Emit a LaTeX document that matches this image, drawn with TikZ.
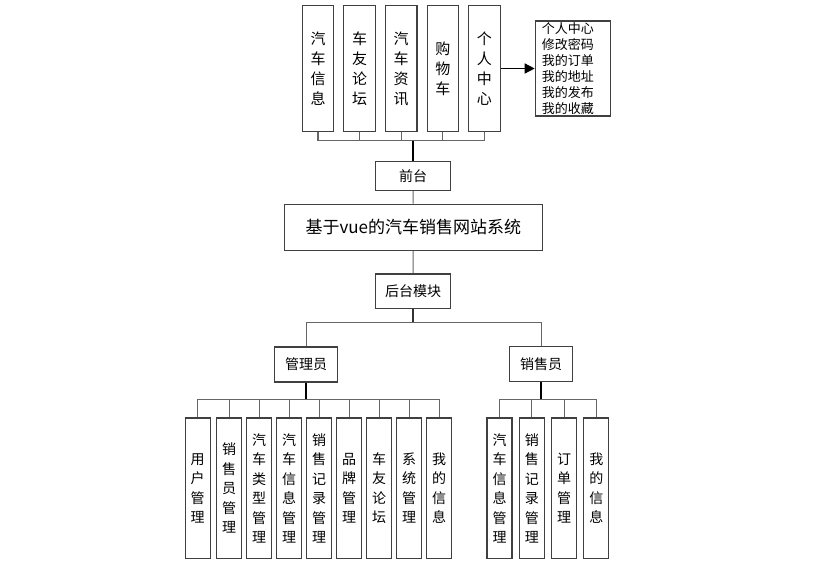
\documentclass[tikz,border=0pt]{standalone}
\usepackage{fontspec}
\setmainfont{Noto Sans CJK SC}
\usepackage{tikz}
\usetikzlibrary{arrows.meta, positioning}
\tikzset{
  box/.style   = {draw=black!75, line width=1.1pt, align=center, inner sep=0pt,
                  font=\fontsize{14}{20}\selectfont},
  topbox/.style  = {box, minimum width=31.5pt, minimum height=126pt,
                    font=\fontsize{15}{20}\selectfont},
  midbox/.style  = {box, minimum width=75pt, minimum height=29pt},
  rolebox/.style = {box, minimum width=63pt, minimum height=35pt},
  leaf/.style    = {box, minimum width=25pt, minimum height=140.5pt,
                    font=\fontsize{14}{19.5}\selectfont},
  lst/.style     = {box, align=left, text width=62pt, inner xsep=6.5pt,
                    minimum height=95pt, font=\fontsize{13}{16}\selectfont},
  ln/.style   = {draw=black!60, line width=1.1pt},
  stem/.style = {draw=black, line width=2pt},
  fl/.style   = {-{Triangle[length=10pt,width=10pt]}, line width=1.4pt},
}
\begin{document}
\begin{tikzpicture}[x=1pt, y=-1pt, node distance=9pt]
  \useasboundingbox (0,0) rectangle (821,567);
  \node[topbox] (qcxx) at (318,68.5) {汽\\车\\信\\息};
  \node[topbox, right=of qcxx] (cylt) {车\\友\\论\\坛};
  \node[topbox, right=of cylt] (qczx) {汽\\车\\资\\讯};
  \node[topbox, right=of qczx] (gwc)  {购\\物\\车};
  \node[topbox, right=of gwc]  (grzx) {个\\人\\中\\心};
  \node[lst, right=34pt of grzx] (grlist)
       {个人中心\\修改密码\\我的订单\\我的地址\\我的发布\\我的收藏};
  \draw[fl] (grzx) -- (grlist);

  \node[midbox] (qt) at (413,176) {前台};
  \node[box, minimum width=258pt, minimum height=46pt,
        font=\fontsize{17}{20}\selectfont] (sys) at (413.3,227.2)
       {基于vue的汽车销售网站系统};
  \node[midbox, minimum height=34.5pt] (ht) at (413,291.2) {后台模块};
  \node[rolebox] (gly) at (306.2,364.5) {管理员};
  \node[rolebox] (xsy) at (541.2,364.2) {销售员};

  \node[leaf] (a1) at (197.7,488.2) {用\\户\\管\\理};
  \node[leaf, right=5.4pt of a1] (a2) {销\\售\\员\\管\\理};
  \node[leaf, right=3.9pt of a2] (a3) {汽\\车\\类\\型\\管\\理};
  \node[leaf, right=3.9pt of a3] (a4) {汽\\车\\信\\息\\管\\理};
  \node[leaf, right=3.9pt of a4] (a5) {销\\售\\记\\录\\管\\理};
  \node[leaf, right=3.9pt of a5] (a6) {品\\牌\\管\\理};
  \node[leaf, right=3.9pt of a6] (a7) {车\\友\\论\\坛};
  \node[leaf, right=3.9pt of a7] (a8) {系\\统\\管\\理};
  \node[leaf, right=3.9pt of a8] (a9) {我\\的\\信\\息};

  \node[leaf] (s1) at (499.5,488.2) {汽\\车\\信\\息\\管\\理};
  \node[leaf, right=6.2pt of s1] (s2) {销\\售\\记\\录\\管\\理};
  \node[leaf, right=6.2pt of s2] (s3) {订\\单\\管\\理};
  \node[leaf, right=6.2pt of s3] (s4) {我\\的\\信\\息};

  \coordinate (tb) at (413,140.7);
  \coordinate (hb) at (413,322.3);
  \coordinate (ab) at (306.2,399.3);
  \coordinate (sb) at (541.2,399.3);

  \foreach \n in {qcxx,cylt,qczx,gwc,grzx}
    \draw[ln] (\n.south) -- (\n.south |- tb);
  \draw[ln] (qcxx.south |- tb) -- (grzx.south |- tb);
  \draw[stem] (qt.north) -- (qt.north |- tb);

  \draw[ln] (qt) -- (sys);
  \draw[ln] (sys) -- (ht);
  \draw[stem, draw=black!80] (ht.south) -- (hb);
  \draw[ln] (gly.north) |- (hb) -| (xsy.north);

  \foreach \n in {a1,a2,a3,a4,a5,a6,a7,a8,a9}
    \draw[ln] (\n.north) -- (\n.north |- ab);
  \draw[ln] (a1.north |- ab) -- (a9.north |- ab);
  \draw[stem] (gly.south) -- (ab);

  \foreach \n in {s1,s2,s3,s4}
    \draw[ln] (\n.north) -- (\n.north |- sb);
  \draw[ln] (s1.north |- sb) -- (s4.north |- sb);
  \draw[stem] (xsy.south) -- (sb);
\end{tikzpicture}
\end{document}
